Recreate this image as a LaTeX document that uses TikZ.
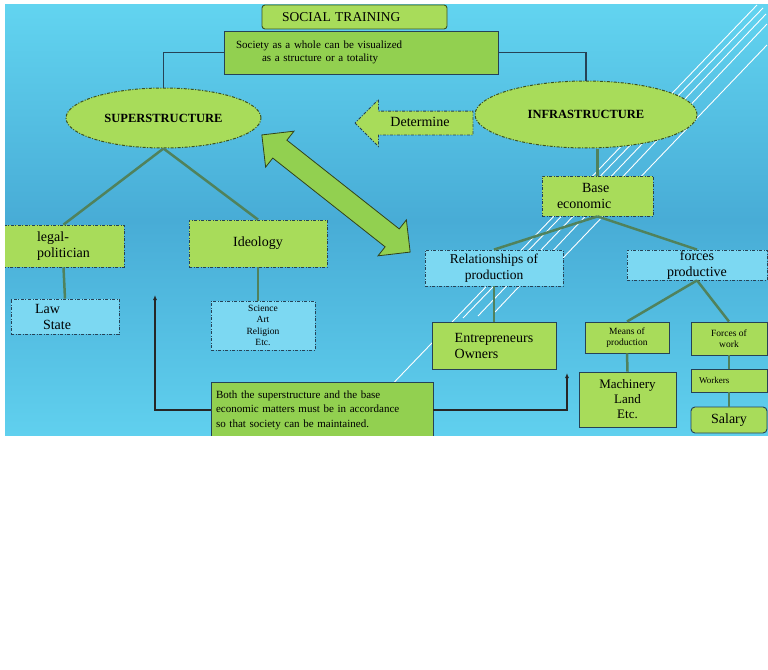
\documentclass[tikz,border=0pt]{standalone}
\usepackage{fontspec}
\setmainfont{Liberation Serif}
\usetikzlibrary{shapes.geometric,shapes.arrows,arrows.meta}

\definecolor{bgtop}{RGB}{98,212,240}
\definecolor{bgmid}{RGB}{72,172,214}
\definecolor{bgbot}{RGB}{96,208,238}
\definecolor{leafgreen}{RGB}{168,220,90}
\definecolor{deepgreen}{RGB}{146,208,80}
\definecolor{skyblue}{RGB}{124,216,242}
\definecolor{olive}{RGB}{62,82,32}
\definecolor{slate}{RGB}{38,66,86}
\definecolor{branch}{RGB}{80,130,92}

\tikzset{
  dashrim/.style={dash pattern=on 3pt off 1.5pt on 1pt off 1.5pt},
  greenbox/.style={rectangle, fill=leafgreen, draw=slate, dashrim, line width=0.8pt, inner sep=2pt},
  bluebox/.style={rectangle, fill=skyblue, draw=slate, dashrim, line width=0.8pt, inner sep=2pt},
  solidbox/.style={rectangle, fill=leafgreen, draw=slate, line width=0.9pt, inner sep=2pt},
  notebox/.style={rectangle, fill=deepgreen, draw=slate, line width=0.9pt},
  oval/.style={ellipse, fill=leafgreen, draw=olive, dashrim, line width=1pt, inner sep=0pt,
    font=\bfseries\fontsize{12.5}{14}\selectfont},
  branchline/.style={draw=branch, line width=2.5pt},
  topline/.style={draw=slate, line width=1.4pt},
  backline/.style={draw=black!85, line width=1.4pt, -{Latex[length=5pt,width=4pt]}},
  bigtext/.style={font=\fontsize{14}{16}\selectfont},
  smalltext/.style={font=\fontsize{9.5}{11.5}\selectfont},
}

\begin{document}
\begin{tikzpicture}[x=1pt, y=-1pt]
\useasboundingbox (0,0) rectangle (768,669);
\begin{scope}
  \clip (5,5) rectangle (768,435);
  \shade[top color=bgtop, bottom color=bgbot, middle color=bgmid] (5,5) rectangle (768,435);
  % white streaks
  \foreach \xa/\ya/\xb/\yb in {757/5/380/397, 763/8/463/318, 766/14/478/316, 767/24/495/312, 767/45/540/282}
    \draw[white, line width=0.9pt] (\xa,\ya) -- (\xb,\yb);

  % top
  \node[solidbox, rounded corners=3pt, draw=olive, minimum width=185pt, minimum height=24pt,
    text width=145pt, align=left, font=\fontsize{13.5}{15}\selectfont] (title) at (354.5,17) {SOCIAL TRAINING};
  \node[notebox, minimum width=274pt, minimum height=43pt, text width=250pt, align=left,
    font=\fontsize{11}{13}\selectfont] (soc) at (361,52.5)
    {Society as a whole can be visualized\\ \hspace*{26pt}as a structure or a totality};

  % two structures
  \node[oval, minimum width=195pt, minimum height=60pt] (super) at (163.5,118) {SUPERSTRUCTURE};
  \node[oval, minimum width=222pt, minimum height=67pt] (infra) at (586,114.5) {INFRASTRUCTURE};
  \node[single arrow, shape border rotate=180, fill=leafgreen, draw=slate, dashrim, line width=0.8pt,
    minimum height=118pt, single arrow head extend=11.5pt, inner ysep=6pt, inner xsep=2pt,
    text height=9pt, text depth=2pt, bigtext] (det) at (420,123) {Determine};
  \node[double arrow, fill=deepgreen, draw=olive!80!black, line width=0.8pt, rotate=-38.3,
    minimum height=189pt, double arrow head extend=11.5pt, inner xsep=0pt, inner ysep=11pt] (link) at (336,193.5) {};

  % superstructure side
  \node[greenbox, minimum width=121pt, minimum height=42pt, align=left, bigtext] (legal) at (63.5,246) {legal-\\politician};
  \node[greenbox, minimum width=138pt, minimum height=47pt, bigtext] (ideo) at (258,243.5) {Ideology};
  \node[bluebox, minimum width=108pt, minimum height=35pt, text width=60pt, align=left, inner ysep=0pt, bigtext] (law) at (65,316.5) {Law\\\hspace*{8pt}State};
  \node[bluebox, minimum width=104pt, minimum height=49pt, align=center, inner ysep=0pt, smalltext] (sci) at (263,325.5) {Science\\Art\\Religion\\Etc.};

  % infrastructure side
  \node[greenbox, minimum width=111pt, minimum height=40pt, text width=81pt, align=left, inner ysep=0pt, bigtext] (base) at (597.5,196) {\hspace*{25pt}Base\\economic};
  \node[bluebox, minimum width=138pt, minimum height=36pt, align=center, inner ysep=0pt, font=\fontsize{13.5}{16}\selectfont] (rel) at (494,268) {Relationships of\\production};
  \node[bluebox, minimum width=140pt, minimum height=30pt, align=center, inner ysep=0pt, bigtext] (forc) at (697,265) {forces\\productive};
  \node[solidbox, minimum width=124pt, minimum height=47pt, align=left, inner ysep=0pt, bigtext] (ent) at (494,345.5) {Entrepreneurs\\Owners};
  \node[solidbox, minimum width=84pt, minimum height=31pt, align=center, inner ysep=0pt, smalltext] (means) at (627,337.5) {Means of\\production};
  \node[solidbox, minimum width=76pt, minimum height=33pt, align=center, inner ysep=0pt, smalltext] (fwork) at (729,338.5) {Forces of\\work};
  \node[solidbox, minimum width=97pt, minimum height=55pt, align=center, inner ysep=0pt, font=\fontsize{13}{15}\selectfont] (mach) at (627.5,399.5) {Machinery\\Land\\Etc.};
  \node[solidbox, minimum width=76pt, minimum height=23pt, text width=60pt, align=left, inner ysep=0pt, font=\fontsize{9}{11}\selectfont] (work) at (729,380.5) {Workers};
  \node[solidbox, rounded corners=4pt, minimum width=76pt, minimum height=26pt, bigtext] (sal) at (729,420) {Salary};

  % note
  \node[notebox, minimum width=222pt, minimum height=56pt, text width=212pt, inner xsep=5pt, align=left,
    font=\fontsize{11}{14.5}\selectfont] (both) at (322,410)
    {Both the superstructure and the base\\ economic matters must be in accordance\\ so that society can be maintained.};
  \coordinate (upL) at (155,295);
  \coordinate (upR) at (567,373);

  % connectors
  \draw[topline] (soc.west) -| (super.north);
  \draw[topline] (soc.east) -| (infra.north);
  \draw[branchline] (super.south) -- (legal.north);
  \draw[branchline] (super.south) -- (ideo.north);
  \draw[branchline] (legal.south) -- (law.north);
  \draw[branchline] (ideo.south) -- (ideo.south |- sci.north);
  \draw[branchline] (base.north) -- (base.north |- infra.south);
  \draw[branchline] (base.south) -- (rel.north);
  \draw[branchline] (base.south) -- (forc.north);
  \draw[branchline] (rel.south) -- (ent.north);
  \draw[branchline] (forc.south) -- (means.north);
  \draw[branchline] (forc.south) -- (fwork.north);
  \draw[branchline] (means.south) -- (mach.north);
  \draw[branchline] (fwork.south) -- (work.north);
  \draw[branchline] (work.south) -- (sal.north);
  \draw[backline] (both.west) -| (upL);
  \draw[backline] (both.east) -| (upR);
\end{scope}
\end{tikzpicture}
\end{document}
